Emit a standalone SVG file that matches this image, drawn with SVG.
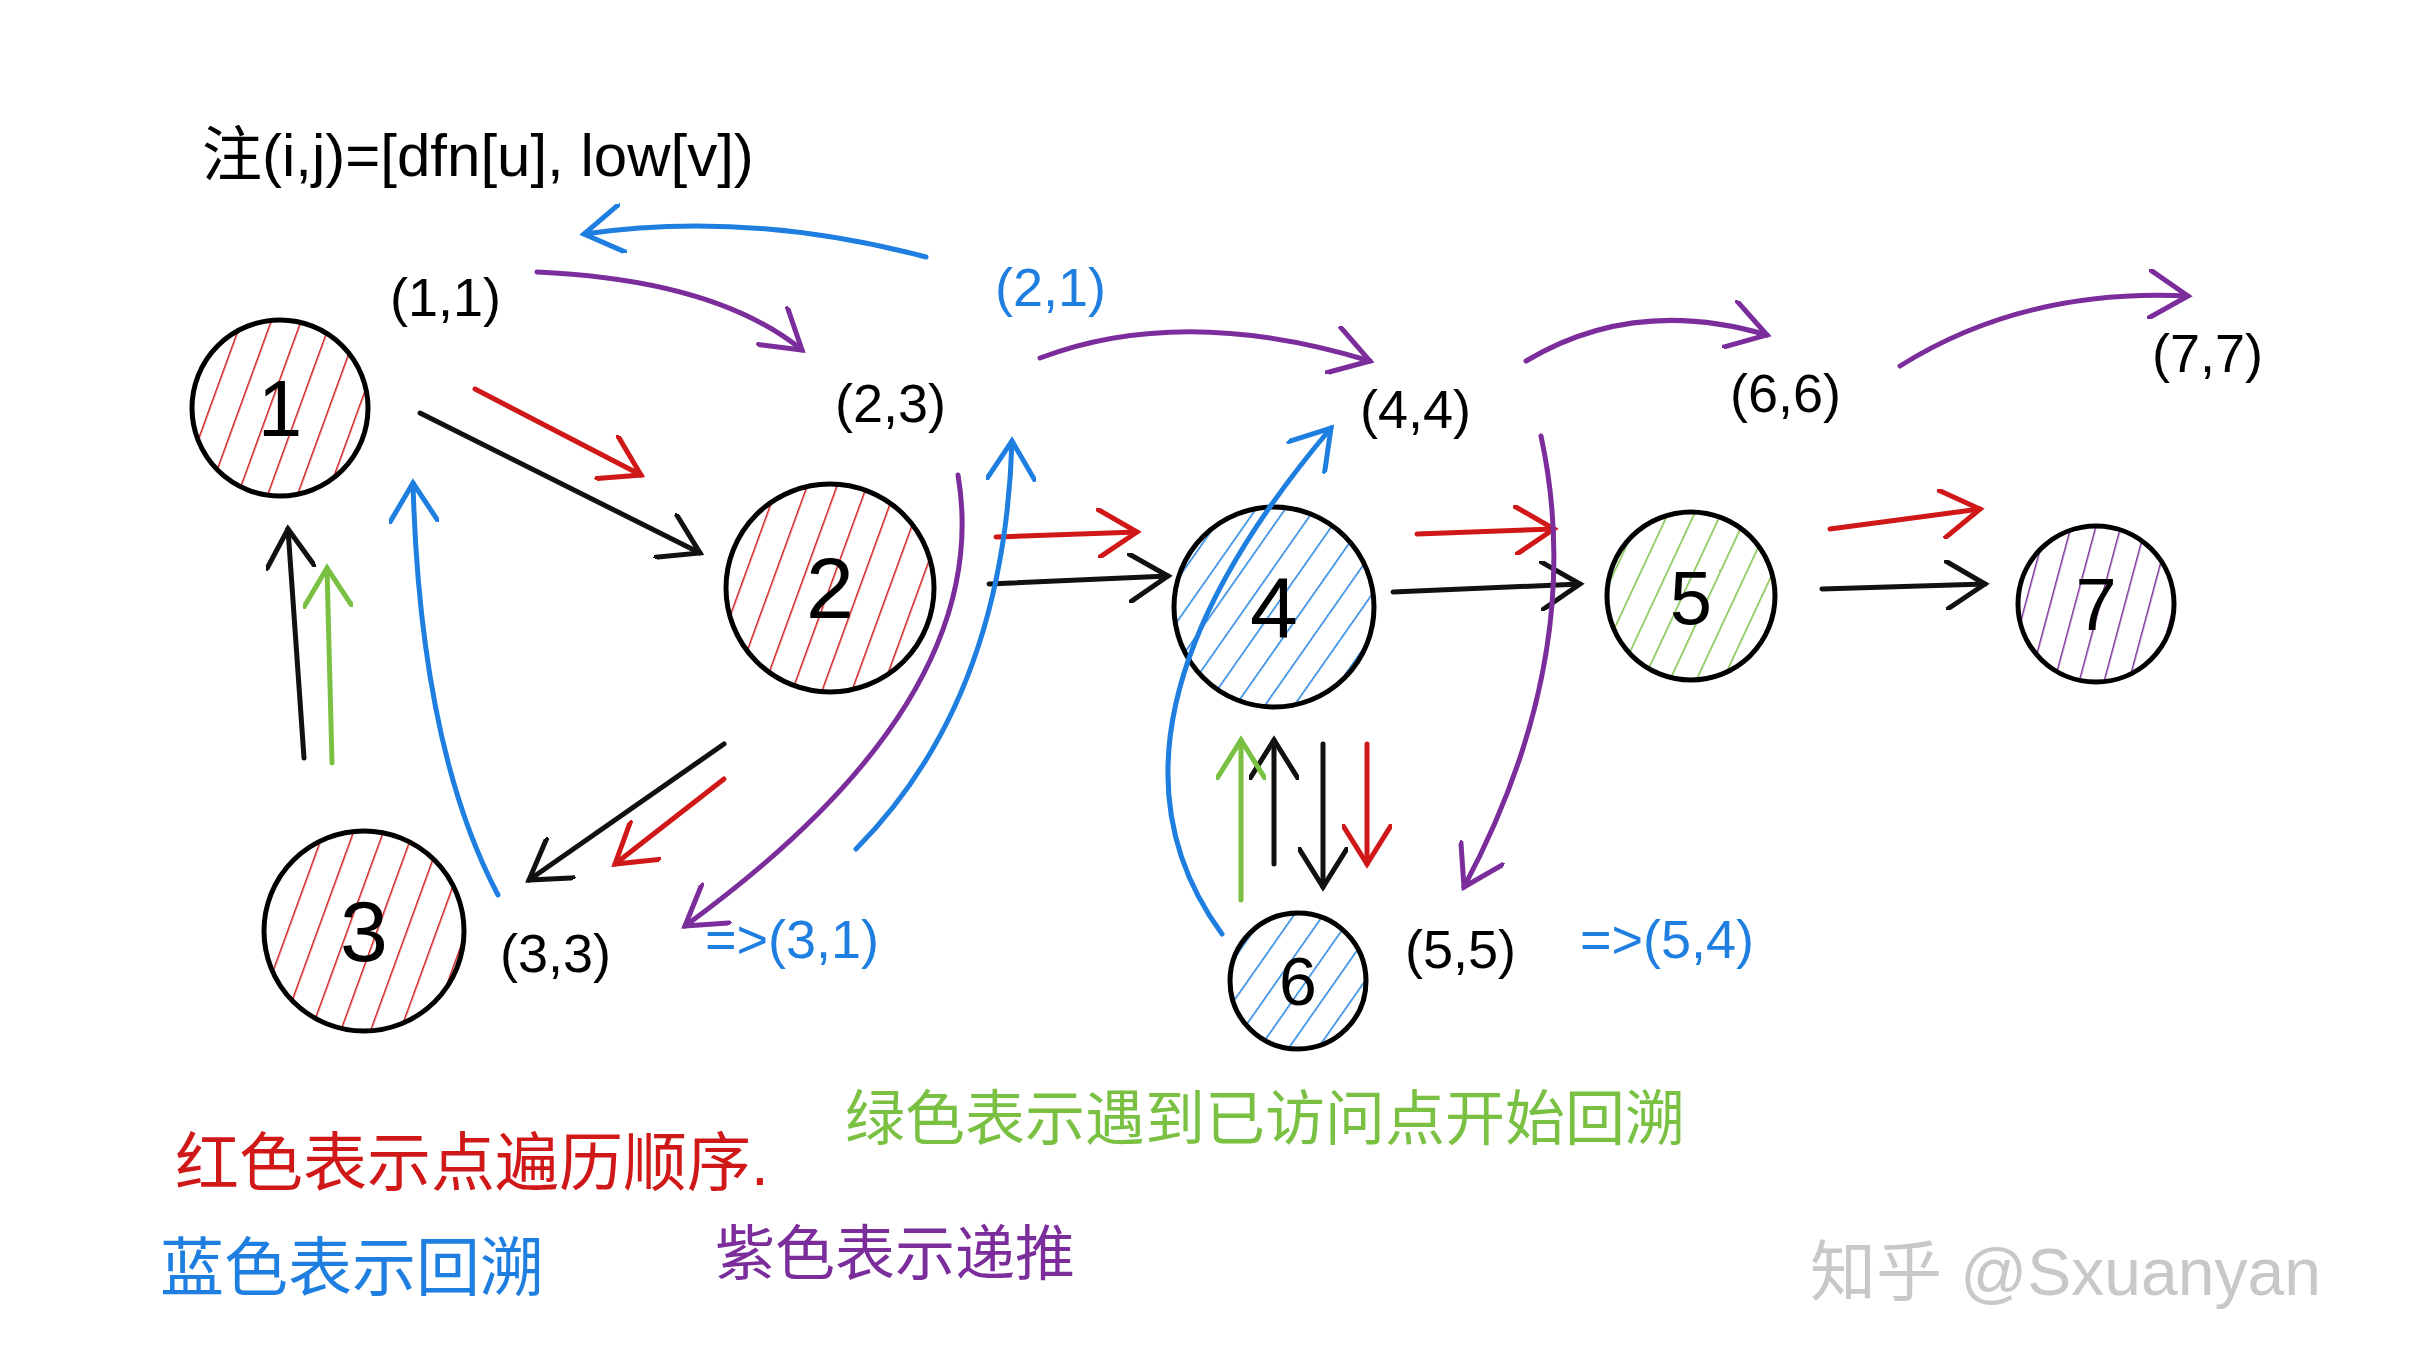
<svg xmlns="http://www.w3.org/2000/svg" width="2416" height="1371" viewBox="0 0 2416 1371">
<style>
.n{stroke:#000;stroke-width:5;}
.t{font-family:"Liberation Sans","Noto Sans CJK SC",sans-serif;}
.k{fill:none;stroke:#111;stroke-width:5;stroke-linecap:round}
.r{fill:none;stroke:#d01818;stroke-width:5;stroke-linecap:round}
.g{fill:none;stroke:#7ac143;stroke-width:5;stroke-linecap:round}
.b{fill:none;stroke:#1e7fe0;stroke-width:5;stroke-linecap:round}
.p{fill:none;stroke:#7b2d9b;stroke-width:5;stroke-linecap:round}
</style>
<defs>
<pattern id="hr" width="28" height="28" patternUnits="userSpaceOnUse" patternTransform="rotate(20)"><line x1="0" y1="0" x2="0" y2="28" stroke="#d01818" stroke-width="3"/></pattern>
<pattern id="hb" width="24" height="24" patternUnits="userSpaceOnUse" patternTransform="rotate(35)"><line x1="0" y1="0" x2="0" y2="24" stroke="#1e7fe0" stroke-width="3"/></pattern>
<pattern id="hg" width="24" height="24" patternUnits="userSpaceOnUse" patternTransform="rotate(25)"><line x1="0" y1="0" x2="0" y2="24" stroke="#7ac143" stroke-width="3"/></pattern>
<pattern id="hp" width="24" height="24" patternUnits="userSpaceOnUse" patternTransform="rotate(15)"><line x1="0" y1="0" x2="0" y2="24" stroke="#7b2d9b" stroke-width="3"/></pattern>
<marker id="mk" markerWidth="10" markerHeight="10" refX="8" refY="5" orient="auto" markerUnits="strokeWidth"><path d="M0,0 L8,5 L0,10" fill="none" stroke="#111" stroke-width="1"/></marker>
<marker id="mr" markerWidth="10" markerHeight="10" refX="8" refY="5" orient="auto" markerUnits="strokeWidth"><path d="M0,0 L8,5 L0,10" fill="none" stroke="#d01818" stroke-width="1"/></marker>
<marker id="mg" markerWidth="10" markerHeight="10" refX="8" refY="5" orient="auto" markerUnits="strokeWidth"><path d="M0,0 L8,5 L0,10" fill="none" stroke="#7ac143" stroke-width="1"/></marker>
<marker id="mb" markerWidth="10" markerHeight="10" refX="8" refY="5" orient="auto" markerUnits="strokeWidth"><path d="M0,0 L8,5 L0,10" fill="none" stroke="#1e7fe0" stroke-width="1"/></marker>
<marker id="mp" markerWidth="10" markerHeight="10" refX="8" refY="5" orient="auto" markerUnits="strokeWidth"><path d="M0,0 L8,5 L0,10" fill="none" stroke="#7b2d9b" stroke-width="1"/></marker>
</defs>
<rect width="2416" height="1371" fill="#fff"/>
<g id="nodes">
<g id="n1"><circle cx="280" cy="408" r="88" fill="url(#hr)" class="n"/><text x="280" y="436" text-anchor="middle" font-size="80" class="t">1</text></g>
<g id="n2"><circle cx="830" cy="588" r="104" fill="url(#hr)" class="n"/><text x="830" y="618" text-anchor="middle" font-size="86" class="t">2</text></g>
<g id="n3"><circle cx="364" cy="931" r="100" fill="url(#hr)" class="n"/><text x="364" y="961" text-anchor="middle" font-size="86" class="t">3</text></g>
<g id="n4"><circle cx="1274" cy="607" r="100" fill="url(#hb)" class="n"/><text x="1274" y="637" text-anchor="middle" font-size="86" class="t">4</text></g>
<g id="n5"><circle cx="1691" cy="596" r="84" fill="url(#hg)" class="n"/><text x="1691" y="624" text-anchor="middle" font-size="76" class="t">5</text></g>
<g id="n6"><circle cx="1298" cy="981" r="68" fill="url(#hb)" class="n"/><text x="1298" y="1005" text-anchor="middle" font-size="68" class="t">6</text></g>
<g id="n7"><circle cx="2096" cy="604" r="78" fill="url(#hp)" class="n"/><text x="2096" y="630" text-anchor="middle" font-size="74" class="t">7</text></g>
</g>
<g id="connectors">
<path class="k" marker-end="url(#mk)" d="M420,413 L700,553"/>
<path class="k" marker-end="url(#mk)" d="M724,744 L529,880"/>
<path class="k" marker-end="url(#mk)" d="M304,758 L288,529"/>
<path class="k" marker-end="url(#mk)" d="M989,584 L1168,576"/>
<path class="k" marker-end="url(#mk)" d="M1393,592 L1580,584"/>
<path class="k" marker-end="url(#mk)" d="M1822,589 L1985,584"/>
<path class="k" marker-end="url(#mk)" d="M1323,744 L1323,887"/>
<path class="k" marker-end="url(#mk)" d="M1274,864 L1274,740"/>
<path class="r" marker-end="url(#mr)" d="M475,389 L641,475"/>
<path class="r" marker-end="url(#mr)" d="M724,779 L615,864"/>
<path class="r" marker-end="url(#mr)" d="M996,537 L1137,532"/>
<path class="r" marker-end="url(#mr)" d="M1417,534 L1554,529"/>
<path class="r" marker-end="url(#mr)" d="M1830,529 L1980,509"/>
<path class="r" marker-end="url(#mr)" d="M1367,744 L1367,864"/>
<path class="g" marker-end="url(#mg)" d="M332,763 L327,568"/>
<path class="g" marker-end="url(#mg)" d="M1241,900 L1241,740"/>
<path class="b" marker-end="url(#mb)" d="M498,895 Q420,747 413,483"/>
<path class="b" marker-end="url(#mb)" d="M856,849 Q1004,700 1012,441"/>
<path class="b" marker-end="url(#mb)" d="M1222,934 Q1074,732 1331,428"/>
<path class="b" marker-end="url(#mb)" d="M926,257 Q747,210 584,234"/>
<path class="p" marker-end="url(#mp)" d="M537,272 Q716,280 802,350"/>
<path class="p" marker-end="url(#mp)" d="M1040,358 Q1183,304 1370,361"/>
<path class="p" marker-end="url(#mp)" d="M1526,361 Q1635,296 1767,335"/>
<path class="p" marker-end="url(#mp)" d="M1900,366 Q2024,288 2188,296"/>
<path class="p" marker-end="url(#mp)" d="M958,475 Q996,700 685,926"/>
<path class="p" marker-end="url(#mp)" d="M1541,436 Q1588,654 1464,887"/>
</g>
<g id="labels" class="t" font-size="54">
<text x="202" y="176" font-size="60">注(i,j)=[dfn[u], low[v])</text>
<text x="390" y="316">(1,1)</text>
<text x="835" y="422">(2,3)</text>
<text x="995" y="306" fill="#1e7fe0">(2,1)</text>
<text x="1360" y="428">(4,4)</text>
<text x="1730" y="412">(6,6)</text>
<text x="2152" y="372">(7,7)</text>
<text x="500" y="972">(3,3)</text>
<text x="705" y="958" fill="#1e7fe0">=&gt;(3,1)</text>
<text x="1405" y="968">(5,5)</text>
<text x="1580" y="958" fill="#1e7fe0">=&gt;(5,4)</text>
<text x="175" y="1185" font-size="64" fill="#d01818">红色表示点遍历顺序.</text>
<text x="845" y="1140" font-size="60" fill="#7ac143">绿色表示遇到已访问点开始回溯</text>
<text x="160" y="1290" font-size="64" fill="#1e7fe0">蓝色表示回溯</text>
<text x="715" y="1275" font-size="60" fill="#7b2d9b">紫色表示递推</text>
<text x="1810" y="1295" font-size="66" fill="#c8c8c8">知乎 @Sxuanyan</text>
</g>
</svg>
